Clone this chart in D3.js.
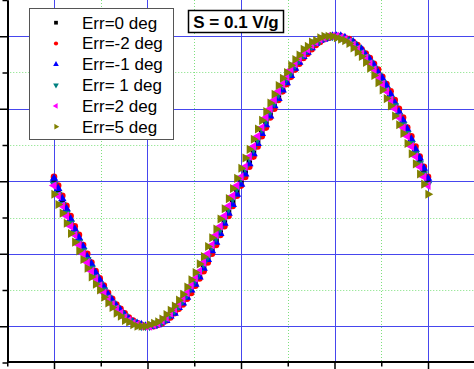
<!DOCTYPE html>
<html>
<head>
<meta charset="utf-8">
<script src="https://cdnjs.cloudflare.com/ajax/libs/d3/7.8.5/d3.min.js"></script>
<style>
body { margin: 0; background: #fff; }
svg { display: block; font-family: "Liberation Sans", Arial, sans-serif; }
</style>
</head>
<body>
<svg></svg>
<script>
// Datos (angulo en grados, salida en mV)
var angles = [0,4,8,12,16,20,24,28,32,36,40,44,48,52,56,60,64,68,72,76,80,84,88,92,96,100,
    104,108,112,116,120,124,128,132,136,140,144,148,152,156,160,164,168,172,176,180,184,188,
    192,196,200,204,208,212,216,220,224,228,232,236,240,244,248,252,256,260,264,268,272,276,
    280,284,288,292,296,300,304,308,312,316,320,324,328,332,336,340,344,348,352,356,360];

var err0 = [0,-7,-14,-21,-28,-34,-41,-47,-53,-59,-64,-69,-74,-79,-83,-87,-90,-93,-95,-97,-98,-99,
    -100,-100,-99,-98,-97,-95,-93,-90,-87,-83,-79,-74,-69,-64,-59,-53,-47,-41,-34,-28,-21,-14,-7,
    0,7,14,21,28,34,41,47,53,59,64,69,74,79,83,87,90,93,95,97,98,99,100,100,99,98,97,95,93,90,87,
    83,79,74,69,64,59,53,47,41,34,28,21,14,7,0];
var errM2 = [3,-3,-10,-17,-24,-31,-37,-44,-50,-56,-62,-67,-72,-77,-81,-85,-88,-91,-94,-96,-98,-99,
    -100,-100,-100,-99,-98,-96,-94,-91,-88,-85,-81,-77,-72,-67,-62,-56,-50,-44,-37,-31,-24,-17,-10,-3,
    3,10,17,24,31,37,44,50,56,62,67,72,77,81,85,88,91,94,96,98,99,100,100,100,99,98,96,94,91,88,
    85,81,77,72,67,62,56,50,44,37,31,24,17,10,3];
var errM1 = [2,-5,-12,-19,-26,-33,-39,-45,-52,-57,-63,-68,-73,-78,-82,-86,-89,-92,-95,-97,-98,-99,
    -100,-100,-100,-99,-97,-96,-93,-91,-87,-84,-80,-75,-71,-66,-60,-54,-48,-42,-36,-29,-22,-16,-9,-2,
    5,12,19,26,33,39,45,52,57,63,68,73,78,82,86,89,92,95,97,98,99,100,100,100,99,97,96,93,91,87,
    84,80,75,71,66,60,54,48,42,36,29,22,16,9,2];
var errP1 = [-2,-9,-16,-22,-29,-36,-42,-48,-54,-60,-66,-71,-75,-80,-84,-87,-91,-93,-96,-97,-99,
    -100,-100,-100,-99,-98,-97,-95,-92,-89,-86,-82,-78,-73,-68,-63,-57,-52,-45,-39,-33,-26,-19,-12,-5,
    2,9,16,22,29,36,42,48,54,60,66,71,75,80,84,87,91,93,96,97,99,100,100,100,99,98,97,95,92,89,
    86,82,78,73,68,63,57,52,45,39,33,26,19,12,5,-2];
var errP2 = [-3,-10,-17,-24,-31,-37,-44,-50,-56,-62,-67,-72,-77,-81,-85,-88,-91,-94,-96,-98,-99,
    -100,-100,-100,-99,-98,-96,-94,-91,-88,-85,-81,-77,-72,-67,-62,-56,-50,-44,-37,-31,-24,-17,-10,-3,
    3,10,17,24,31,37,44,50,56,62,67,72,77,81,85,88,91,94,96,98,99,100,100,100,99,98,96,94,91,88,
    85,81,77,72,67,62,56,50,44,37,31,24,17,10,3,-3];
var errP5 = [-9,-16,-22,-29,-36,-42,-48,-54,-60,-66,-71,-75,-80,-84,-87,-91,-93,-96,-97,-99,
    -100,-100,-100,-99,-98,-97,-95,-92,-89,-86,-82,-78,-73,-68,-63,-57,-52,-45,-39,-33,-26,-19,-12,-5,
    2,9,16,22,29,36,42,48,54,60,66,71,75,80,84,87,91,93,96,97,99,100,100,100,99,98,97,95,92,89,
    86,82,78,73,68,63,57,52,45,39,33,26,19,12,5,-2,-9];

var seriesNames = ['Err=0 deg', 'Err=-2 deg', 'Err=-1 deg', 'Err= 1 deg', 'Err=2 deg', 'Err=5 deg'];
var seriesValues = [err0, errM2, errM1, errP1, errP2, errP5];
var sensLabel = 'S = 0.1 V/g';

var xMajor = [0, 90, 180, 270, 360],
    xMinor = [-45, 45, 135, 225, 315, 405],
    yMajor = [-100, -50, 0, 50, 100],
    yMinor = [-125, -75, -25, 25, 75, 125];

// Ajustes del canvas
var w = 474,
    h = 369;

var svg = d3.select('svg')
    .attr('width', w)
    .attr('height', h);

var xScale = d3.scaleLinear()
    .domain([-45, 405])
    .range([7.25, 474.75]);
var yScale = d3.scaleLinear()
    .domain([-125, 125])
    .range([362.5, 0]);

var colors = ['#000000', '#ff0000', '#0000ff', '#008080', '#ff00ff', '#808000'];
var shapes = [d3.symbolSquare, d3.symbolCircle, d3.symbolTriangle, d3.symbolTriangle, d3.symbolTriangle, d3.symbolTriangle];
var rot = [0, 0, 0, 180, -90, 90];
var sizes = [30, 34, 32, 32, 34, 36];

// Rejilla menor
svg.append('g').selectAll('line')
    .data(xMinor.slice(1, -1))
    .enter().append('line')
    .attr('x1', function(d) { return Math.round(xScale(d)) + 0.5; })
    .attr('x2', function(d) { return Math.round(xScale(d)) + 0.5; })
    .attr('y1', 0).attr('y2', yScale(-125))
    .attr('stroke', '#7ee07e').attr('stroke-dasharray', '1,2');
svg.append('g').selectAll('line')
    .data(yMinor.slice(1, -1))
    .enter().append('line')
    .attr('y1', function(d) { return Math.round(yScale(d)) + 0.5; })
    .attr('y2', function(d) { return Math.round(yScale(d)) + 0.5; })
    .attr('x1', xScale(-45)).attr('x2', w)
    .attr('stroke', '#7ee07e').attr('stroke-dasharray', '1,2');

// Rejilla mayor
svg.append('g').selectAll('line')
    .data(xMajor)
    .enter().append('line')
    .attr('x1', function(d) { return Math.round(xScale(d)) + 0.5; })
    .attr('x2', function(d) { return Math.round(xScale(d)) + 0.5; })
    .attr('y1', 0).attr('y2', yScale(-125))
    .attr('stroke', '#4646ee');
svg.append('g').selectAll('line')
    .data(yMajor)
    .enter().append('line')
    .attr('y1', function(d) { return Math.round(yScale(d)) + 0.5; })
    .attr('y2', function(d) { return Math.round(yScale(d)) + 0.5; })
    .attr('x1', xScale(-45)).attr('x2', w)
    .attr('stroke', '#4646ee');

// Ejes
function drawAxis(axis, tr) {
    var g = svg.append('g').attr('transform', tr).call(axis);
    g.selectAll('.tick line').attr('stroke', '#000').attr('stroke-width', 1.5);
    g.select('.domain').attr('stroke', '#000').attr('stroke-width', 2);
    return g;
}
drawAxis(d3.axisBottom(xScale).tickValues(xMajor).tickSize(8).tickSizeOuter(0).tickFormat(''), 'translate(0,' + 361.5 + ')');
drawAxis(d3.axisBottom(xScale).tickValues(xMinor).tickSize(5).tickSizeOuter(0).tickFormat(''), 'translate(0,' + 361.5 + ')');
drawAxis(d3.axisLeft(yScale).tickValues(yMajor).tickSize(8).tickSizeOuter(0).tickFormat(''), 'translate(' + 7.5 + ',0)');
drawAxis(d3.axisLeft(yScale).tickValues(yMinor).tickSize(5).tickSizeOuter(0).tickFormat(''), 'translate(' + 7.5 + ',0)');

// Puntos
seriesValues.forEach(function(vals, s) {
    var sym = d3.symbol().type(shapes[s]).size(sizes[s]);
    svg.append('g').selectAll('path')
        .data(vals)
        .enter()
        .append('path')
        .attr('d', sym)
        .attr('transform', function(d, i) {
            return 'translate(' + xScale(angles[i]) + ',' + yScale(d) + ') rotate(' + rot[s] + ')';
        })
        .attr('fill', colors[s]);
});

// Leyenda
var legend = svg.append('g');
legend.append('rect')
    .attr('x', 29.5).attr('y', 8.5)
    .attr('width', 144).attr('height', 131)
    .attr('fill', '#fff').attr('stroke', '#555').attr('stroke-width', 1);
seriesNames.forEach(function(name, s) {
    var cy = 22.7 + s * 20.8;
    legend.append('path')
        .attr('d', d3.symbol().type(shapes[s]).size(14))
        .attr('transform', 'translate(56,' + cy + ') rotate(' + rot[s] + ')')
        .attr('fill', colors[s]);
    legend.append('text')
        .attr('x', 82).attr('y', cy + 5.8)
        .attr('font-size', 17)
        .attr('fill', '#000')
        .text(name);
});

// Caja de sensibilidad
svg.append('rect')
    .attr('x', 188.5).attr('y', 10.5)
    .attr('width', 95).attr('height', 22)
    .attr('fill', '#fff').attr('stroke', '#000').attr('stroke-width', 1.5);
svg.append('text')
    .attr('x', 236).attr('y', 27.5)
    .attr('text-anchor', 'middle')
    .attr('font-size', 17).attr('font-weight', 'bold')
    .text(sensLabel);
</script>
</body>
</html>
